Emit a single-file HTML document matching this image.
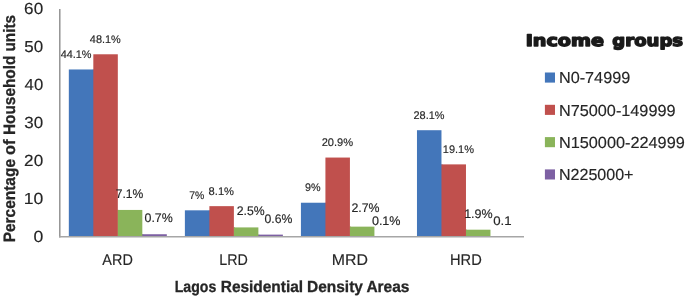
<!DOCTYPE html>
<html><head><meta charset="utf-8"><title>Income groups chart</title>
<style>
html,body{margin:0;padding:0;background:#fff;}
body{width:685px;height:298px;overflow:hidden;}
svg{display:block;text-rendering:geometricPrecision;}
text{font-family:"Liberation Sans",Arial,sans-serif;fill:#262626;stroke:#262626;stroke-width:0.15px;}
.sm{font-size:11.0px;}
.lg{font-size:12.5px;}
.ax{font-size:16px;}
.tt{font-weight:bold;font-size:16px;stroke-width:0.3px;}
.lt{font-family:"DejaVu Sans","Liberation Sans",sans-serif;font-weight:bold;font-size:16px;fill:#1a1a1a;stroke:#1a1a1a;stroke-width:1.4px;stroke-linejoin:round;}
</style></head><body>
<svg width="685" height="298" viewBox="0 0 685 298">
<rect x="0" y="0" width="685" height="298" fill="#fff"/>
<rect x="68.82" y="69.47" width="24.50" height="167.43" fill="#4376BA"/>
<rect x="92.82" y="69.47" width="1.5" height="167.43" fill="#4376BA"/>
<rect x="93.32" y="54.28" width="24.50" height="182.62" fill="#C0504D"/>
<rect x="117.32" y="209.94" width="1.5" height="26.96" fill="#C0504D"/>
<rect x="117.82" y="209.94" width="24.50" height="26.96" fill="#8AB45A"/>
<rect x="141.82" y="234.24" width="1.5" height="2.66" fill="#8AB45A"/>
<rect x="142.32" y="234.24" width="24.50" height="2.66" fill="#7D60A3"/>
<rect x="184.88" y="210.32" width="24.50" height="26.58" fill="#4376BA"/>
<rect x="208.88" y="210.32" width="1.5" height="26.58" fill="#4376BA"/>
<rect x="209.38" y="206.15" width="24.50" height="30.75" fill="#C0504D"/>
<rect x="233.38" y="227.41" width="1.5" height="9.49" fill="#C0504D"/>
<rect x="233.88" y="227.41" width="24.50" height="9.49" fill="#8AB45A"/>
<rect x="257.88" y="234.62" width="1.5" height="2.28" fill="#8AB45A"/>
<rect x="258.38" y="234.62" width="24.50" height="2.28" fill="#7D60A3"/>
<rect x="300.92" y="202.73" width="24.50" height="34.17" fill="#4376BA"/>
<rect x="324.92" y="202.73" width="1.5" height="34.17" fill="#4376BA"/>
<rect x="325.42" y="157.55" width="24.50" height="79.35" fill="#C0504D"/>
<rect x="349.42" y="226.65" width="1.5" height="10.25" fill="#C0504D"/>
<rect x="349.92" y="226.65" width="24.50" height="10.25" fill="#8AB45A"/>
<rect x="373.92" y="236.52" width="1.5" height="0.38" fill="#8AB45A"/>
<rect x="374.42" y="236.52" width="24.50" height="0.38" fill="#7D60A3"/>
<rect x="416.97" y="130.21" width="24.50" height="106.69" fill="#4376BA"/>
<rect x="440.97" y="164.38" width="1.5" height="72.52" fill="#4376BA"/>
<rect x="441.47" y="164.38" width="24.50" height="72.52" fill="#C0504D"/>
<rect x="465.47" y="229.69" width="1.5" height="7.21" fill="#C0504D"/>
<rect x="465.97" y="229.69" width="24.50" height="7.21" fill="#8AB45A"/>
<line x1="59.80" y1="9.10" x2="59.80" y2="237.50" stroke="#8c8c8c" stroke-width="1.4"/>
<line x1="59.10" y1="236.80" x2="524.00" y2="236.80" stroke="#a6a6a6" stroke-width="1.5"/>
<text class="ax" x="33.40" y="241.50" textLength="9.80" lengthAdjust="spacingAndGlyphs">0</text>
<text class="ax" x="23.65" y="203.58" textLength="19.53" lengthAdjust="spacingAndGlyphs">10</text>
<text class="ax" x="24.14" y="165.67" textLength="19.02" lengthAdjust="spacingAndGlyphs">20</text>
<text class="ax" x="24.32" y="127.75" textLength="18.84" lengthAdjust="spacingAndGlyphs">30</text>
<text class="ax" x="24.61" y="89.83" textLength="18.54" lengthAdjust="spacingAndGlyphs">40</text>
<text class="ax" x="24.32" y="51.92" textLength="18.84" lengthAdjust="spacingAndGlyphs">50</text>
<text class="ax" x="24.14" y="14.00" textLength="19.02" lengthAdjust="spacingAndGlyphs">60</text>
<text class="sm" x="60.65" y="57.95" textLength="30.94" lengthAdjust="spacingAndGlyphs">44.1%</text>
<text class="sm" x="89.85" y="43.15" textLength="30.94" lengthAdjust="spacingAndGlyphs">48.1%</text>
<text class="lg" x="115.69" y="197.75" textLength="27.64" lengthAdjust="spacingAndGlyphs">7.1%</text>
<text class="lg" x="144.50" y="222.45" textLength="28.34" lengthAdjust="spacingAndGlyphs">0.7%</text>
<text class="sm" x="189.28" y="198.85" textLength="15.09" lengthAdjust="spacingAndGlyphs">7%</text>
<text class="sm" x="208.62" y="194.75" textLength="25.38" lengthAdjust="spacingAndGlyphs">8.1%</text>
<text class="lg" x="236.69" y="214.85" textLength="27.95" lengthAdjust="spacingAndGlyphs">2.5%</text>
<text class="lg" x="264.51" y="222.75" textLength="27.83" lengthAdjust="spacingAndGlyphs">0.6%</text>
<text class="sm" x="304.90" y="190.75" textLength="15.58" lengthAdjust="spacingAndGlyphs">9%</text>
<text class="sm" x="321.65" y="146.15" textLength="31.45" lengthAdjust="spacingAndGlyphs">20.9%</text>
<text class="lg" x="351.38" y="211.65" textLength="28.16" lengthAdjust="spacingAndGlyphs">2.7%</text>
<text class="lg" x="371.90" y="224.65" textLength="28.65" lengthAdjust="spacingAndGlyphs">0.1%</text>
<text class="sm" x="413.55" y="118.75" textLength="30.93" lengthAdjust="spacingAndGlyphs">28.1%</text>
<text class="sm" x="442.86" y="152.85" textLength="31.13" lengthAdjust="spacingAndGlyphs">19.1%</text>
<text class="lg" x="464.14" y="217.75" textLength="28.51" lengthAdjust="spacingAndGlyphs">1.9%</text>
<text class="lg" x="493.27" y="224.95" textLength="18.39" lengthAdjust="spacingAndGlyphs">0.1</text>
<text class="ax" x="102.35" y="265.00" textLength="30.54" lengthAdjust="spacingAndGlyphs" style="font-size:15.6px">ARD</text>
<text class="ax" x="219.31" y="265.00" textLength="28.56" lengthAdjust="spacingAndGlyphs" style="font-size:15.6px">LRD</text>
<text class="ax" x="331.68" y="265.00" textLength="36.18" lengthAdjust="spacingAndGlyphs" style="font-size:15.6px">MRD</text>
<text class="ax" x="449.98" y="265.00" textLength="31.75" lengthAdjust="spacingAndGlyphs" style="font-size:15.6px">HRD</text>
<text class="tt" x="174.76" y="292.00" textLength="41.48" lengthAdjust="spacingAndGlyphs">Lagos</text>
<text class="tt" x="220.77" y="292.00" textLength="82.33" lengthAdjust="spacingAndGlyphs">Residential</text>
<text class="tt" x="307.07" y="292.00" textLength="55.82" lengthAdjust="spacingAndGlyphs">Density</text>
<text class="tt" x="366.39" y="292.00" textLength="43.03" lengthAdjust="spacingAndGlyphs">Areas</text>
<text class="tt" transform="translate(14.6,0) rotate(-90)" x="-242.33" y="0" textLength="83.32" lengthAdjust="spacingAndGlyphs" style="font-size:16.5px">Percentage</text>
<text class="tt" transform="translate(14.6,0) rotate(-90)" x="-154.96" y="0" textLength="15.46" lengthAdjust="spacingAndGlyphs" style="font-size:16.5px">of</text>
<text class="tt" transform="translate(14.6,0) rotate(-90)" x="-135.03" y="0" textLength="79.45" lengthAdjust="spacingAndGlyphs" style="font-size:16.5px">Household</text>
<text class="tt" transform="translate(14.6,0) rotate(-90)" x="-51.57" y="0" textLength="36.56" lengthAdjust="spacingAndGlyphs" style="font-size:16.5px">units</text>
<text class="lt" x="525.71" y="45.80" textLength="78.19" lengthAdjust="spacingAndGlyphs">Income</text>
<text class="lt" x="612.32" y="45.80" textLength="70.77" lengthAdjust="spacingAndGlyphs">groups</text>
<rect x="544.9" y="72.50" width="10.1" height="10.1" fill="#4376BA"/>
<text class="ax" x="558.95" y="83.20" textLength="71.29" lengthAdjust="spacingAndGlyphs">N0-74999</text>
<rect x="544.9" y="104.80" width="10.1" height="10.1" fill="#C0504D"/>
<text class="ax" x="558.95" y="115.50" textLength="116.60" lengthAdjust="spacingAndGlyphs">N75000-149999</text>
<rect x="544.9" y="137.10" width="10.1" height="10.1" fill="#8AB45A"/>
<text class="ax" x="558.94" y="147.80" textLength="125.80" lengthAdjust="spacingAndGlyphs">N150000-224999</text>
<rect x="544.9" y="169.40" width="10.1" height="10.1" fill="#7D60A3"/>
<text class="ax" x="558.96" y="180.10" textLength="74.54" lengthAdjust="spacingAndGlyphs">N225000+</text>
</svg>
</body></html>
